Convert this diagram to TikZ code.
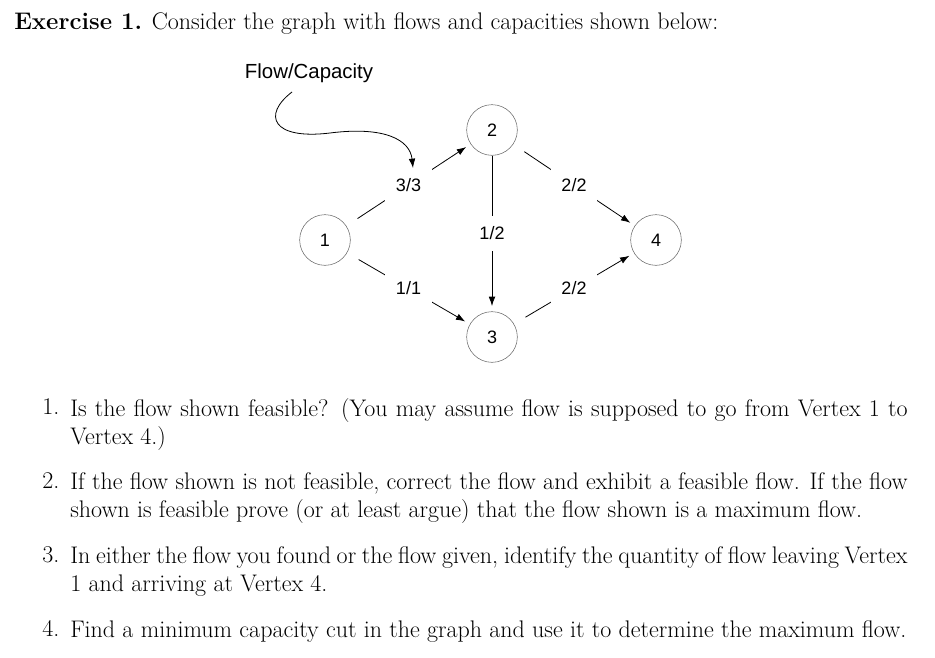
\documentclass[tikz,border=0pt]{standalone}
\usepackage{fontspec}
\newfontfamily\gfont{Liberation Sans}
\usetikzlibrary{arrows.meta}
\begin{document}
\begin{tikzpicture}[x=0.75pt,y=-0.75pt,
  vert/.style={circle,draw=black!60,minimum size=38pt,inner sep=0,font=\gfont\fontsize{13.5}{15}\selectfont},
  edge/.style={-{Latex[length=7pt,width=5pt]},semithick,shorten <=10pt,shorten >=4pt},
  lab/.style={fill=white,inner sep=8pt,font=\gfont\fontsize{13.5}{15}\selectfont},
  body/.style={anchor=north west,inner sep=0,font=\fontsize{18}{21}\selectfont},
  para/.style={body,text width=628pt,align=justify}]
\useasboundingbox (0,0) rectangle (935,657);
\node[body,anchor=base west] (title) at (14,29) {\textbf{Exercise 1.} Consider the graph with flows and capacities shown below:};
\node[font=\gfont\fontsize{15.3}{17}\selectfont] (fc) at (309,73) {Flow/Capacity};
\node[vert] (n1) at (325,240) {1};
\node[vert] (n2) at (492,130) {2};
\node[vert] (n3) at (492,337) {3};
\node[vert] (n4) at (656,240) {4};
\coordinate (cs) at (292,92);
\coordinate (ce) at (413,168);
\draw[-{Latex[length=7pt,width=5pt]},semithick] (cs) .. controls (262,115) and (272,140) .. (330,133) .. controls (385,126) and (410,140) .. (ce);
\draw[edge] (n1) -- node[lab]{3/3} (n2);
\draw[edge] (n1) -- node[lab]{1/1} (n3);
\draw[edge,shorten <=0pt] (n2) -- node[lab]{1/2} (n3);
\draw[edge] (n2) -- node[lab]{2/2} (n4);
\draw[edge] (n3) -- node[lab]{2/2} (n4);
\node[body] (i1n) at (42,398) {1.};
\node[para] (i1) at (70,398) {Is the flow shown feasible? (You may assume flow is supposed to go from Vertex 1 to Vertex 4.)};
\node[body] (i2n) at (42,472) {2.};
\node[para] (i2) at (70,472) {If the flow shown is not feasible, correct the flow and exhibit a feasible flow. If the flow shown is feasible prove (or at least argue) that the flow shown is a maximum flow.};
\node[body] (i3n) at (42,546) {3.};
\node[para] (i3) at (70,546) {In either the flow you found or the flow given, identify the quantity of flow leaving Vertex 1 and arriving at Vertex 4.};
\node[body] (i4n) at (42,620) {4.};
\node[para] (i4) at (70,620) {Find a minimum capacity cut in the graph and use it to determine the maximum flow.};
\end{tikzpicture}
\end{document}
